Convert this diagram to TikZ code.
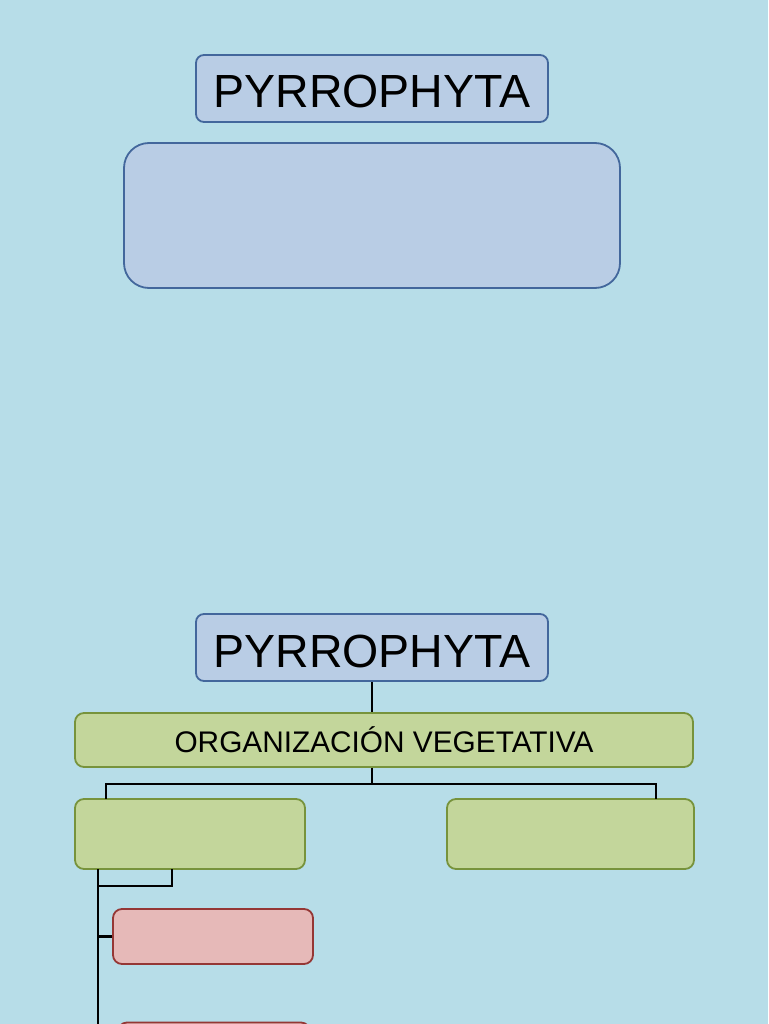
\documentclass[tikz,border=0pt]{standalone}
\usepackage{fontspec}
\setmainfont{Liberation Sans}
\usetikzlibrary{positioning}
\definecolor{fondo}{HTML}{B7DDE8}
\definecolor{azulfill}{HTML}{B9CDE5}
\definecolor{azulborde}{HTML}{43679C}
\definecolor{verdefill}{HTML}{C3D69B}
\definecolor{verdeborde}{HTML}{77933C}
\definecolor{rojofill}{HTML}{E6B9B8}
\definecolor{rojoborde}{HTML}{953735}
\tikzstyle{titulo} = [draw=azulborde, fill=azulfill, line width=1.8pt, rounded corners=8pt, minimum width=352pt, minimum height=67pt, inner sep=0pt, text height=39pt, text depth=0pt, font=\fontsize{46.5}{50}\selectfont]
\tikzstyle{cuadro} = [draw=azulborde, fill=azulfill, line width=1.8pt, rounded corners=25pt, minimum width=496pt, minimum height=145pt]
\tikzstyle{verde} = [draw=verdeborde, fill=verdefill, line width=1.8pt, rounded corners=9pt, inner sep=0pt, font=\fontsize{29.8}{32}\selectfont]
\tikzstyle{rojo} = [draw=rojoborde, fill=rojofill, line width=1.8pt, rounded corners=9pt, minimum width=200pt, minimum height=55pt]
\tikzstyle{enlace} = [draw=black, line width=2.2pt]

\begin{document}
\begin{tikzpicture}[x=1pt, y=1pt]

  % page and background
  \useasboundingbox (0,0) rectangle (768,-1024);
  \clip (0,0) rectangle (768,-1024);
  \fill [fondo] (0,0) rectangle (768,-1024);

  % upper part
  \node [titulo] (titulo1) at (372,-88.5) {PYRROPHYTA};
  \node [cuadro] (resumen) at (372,-215.5) {};

  % lower part
  \node [titulo] (titulo2) at (372,-647.5) {PYRROPHYTA};
  \node [verde, minimum width=618pt, minimum height=54pt] (organizacion) at (384,-740) {ORGANIZACI\'ON VEGETATIVA};
  \node [verde, minimum width=230pt, minimum height=70pt] (izq) at (190,-834) {};
  \node [verde, minimum width=247pt, minimum height=70pt] (der) at (570.5,-834) {};
  \node [rojo] (rojo1) at (213,-936.5) {};
  \node [rojo, minimum width=192pt] (rojo2) at (214,-1050) {};

  % free ends of the connectors
  \coordinate (ramaizq) at (106,-799);
  \coordinate (ramader) at (656,-799);
  \coordinate (troncoizq) at (98,-869);
  \coordinate (gancho) at (172,-869);
  \coordinate (fondoizq) at (98,-1024);

  % connectors
  \draw [enlace] (titulo2.south) -- (titulo2.south |- organizacion.north);
  \draw [enlace] (titulo2.south |- organizacion.south) -- ++(0,-16) -| (ramaizq);
  \draw [enlace] (titulo2.south |- organizacion.south) -- ++(0,-16) -| (ramader);
  \draw [enlace] (troncoizq) -- (fondoizq);
  \draw [enlace] (gancho) |- (troncoizq |- 0,-886);
  \draw [enlace] (rojo1.west) -- (troncoizq |- rojo1.west);
  \draw [enlace] (rojo2.west) -- (troncoizq |- rojo2.west);

\end{tikzpicture}
\end{document}
